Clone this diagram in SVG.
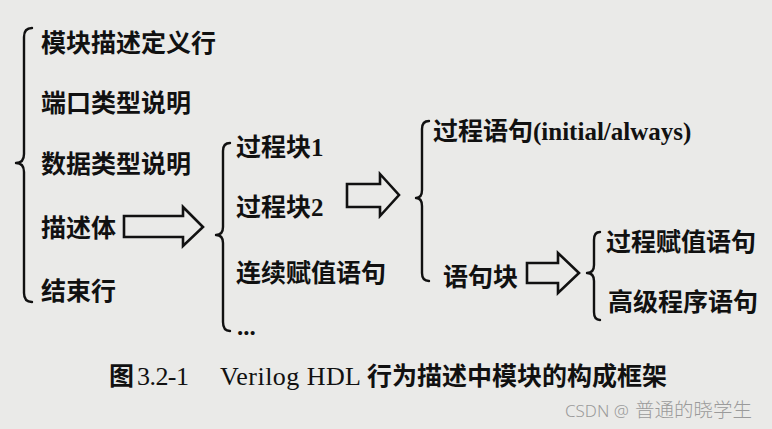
<svg xmlns="http://www.w3.org/2000/svg" width="772" height="429" viewBox="0 0 772 429">
<style>
.t{font-family:"Liberation Serif","Noto Sans CJK SC",serif;font-weight:bold;font-size:25px;fill:#111}
.br{fill:none;stroke:#111;stroke-width:2.4;stroke-linecap:round;stroke-linejoin:round}
.ar{fill:none;stroke:#111;stroke-width:2.6;stroke-linejoin:miter}
.cap{font-family:"Liberation Serif","Noto Sans CJK SC",serif;font-size:26px;fill:#111}
.cj{font-family:"Noto Sans CJK SC",sans-serif;font-weight:bold;font-size:25px}
.wm{font-family:"Noto Sans","Noto Sans CJK SC",sans-serif;font-size:18px;fill:#9a9a9a;font-weight:300}
</style>
<rect width="772" height="429" fill="#eaeae8"/>
<g id="connectors">
<path class="br" d="M32,28 Q24,28 24,37 L24,154 Q24,163 16,163 Q24,163 24,172 L24,293 Q24,302 32,302"/>
<path class="br" d="M230,143 Q223,143 223,151 L223,227 Q223,235 216,235 Q223,235 223,243 L223,322 Q223,331 230,331"/>
<path class="br" d="M429,121 Q422,121 422,129 L422,190 Q422,198 416,198 Q422,198 422,206 L422,273 Q422,281 429,281"/>
<path class="br" d="M600,232 Q594,232 594,240 L594,265 Q594,273 587,273 Q594,273 594,281 L594,312 Q594,320 600,320"/>
<path class="ar" d="M124,216 L183,216 L183,207 L203,227 L183,246 L183,237 L124,237 Z"/>
<path class="ar" d="M347,184 L380,184 L380,174 L399,195 L380,216 L380,207 L347,207 Z"/>
<path class="ar" d="M527,263 L558,263 L558,253 L579,273 L558,293 L558,283 L527,283 Z"/>
</g>
<g id="n-module-def"><text class="t" x="41" y="52">模块描述定义行</text></g>
<g id="n-port"><text class="t" x="41" y="112">端口类型说明</text></g>
<g id="n-data"><text class="t" x="41" y="173">数据类型说明</text></g>
<g id="n-body"><text class="t" x="41" y="237">描述体</text></g>
<g id="n-end"><text class="t" x="41" y="300">结束行</text></g>
<g id="n-proc1"><text class="t" x="236" y="156">过程块1</text></g>
<g id="n-proc2"><text class="t" x="236" y="216">过程块2</text></g>
<g id="n-cont"><text class="t" x="236" y="282">连续赋值语句</text></g>
<g id="n-more"><text class="t" x="237" y="335">...</text></g>
<g id="n-procstmt"><text class="t" x="433" y="140">过程语句(initial/always)</text></g>
<g id="n-block"><text class="t" x="443" y="286">语句块</text></g>
<g id="n-procassign"><text class="t" x="606" y="251">过程赋值语句</text></g>
<g id="n-highlevel"><text class="t" x="608" y="311">高级程序语句</text></g>
<g id="caption">
<text class="cap" y="385"><tspan class="cj" x="109">图</tspan><tspan x="137" textLength="52">3.2-1</tspan><tspan x="220" textLength="141">Verilog HDL</tspan><tspan class="cj" x="367">行为描述中模块的构成框架</tspan></text>
</g>
<g id="watermark"><text class="wm" y="417"><tspan x="565" font-size="17">CSDN @</tspan><tspan x="635" font-size="19.5">普通的晓学生</tspan></text></g>
</svg>
